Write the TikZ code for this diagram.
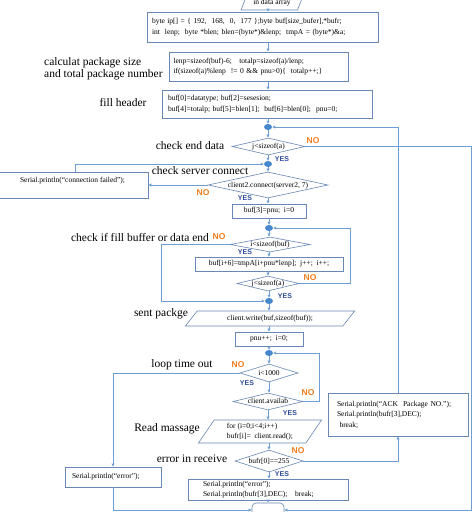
\documentclass[tikz,border=0pt]{standalone}
\usepackage{fontspec}
\setmainfont{Liberation Serif}
\newfontfamily\sansbold{Liberation Sans}
\usetikzlibrary{arrows.meta,shapes.geometric}
\definecolor{lc}{RGB}{110,158,212}
\definecolor{bc}{RGB}{105,135,180}
\definecolor{dotc}{RGB}{70,135,205}
\definecolor{noc}{RGB}{240,125,30}
\definecolor{yesc}{RGB}{45,75,155}
\newcommand{\codef}{\fontsize{7.5}{10.5}\selectfont}
\newcommand{\zt}[1]{\smash{\raisebox{-0.6ex}{\makebox[0pt]{#1}}}}
\begin{document}
\begin{tikzpicture}[x=1pt,y=-1pt,
  flow/.style={draw=lc, line width=0.7pt},
  arr/.style={flow, -{Latex[length=3pt,width=3.4pt]}},
  box/.style={draw=bc, line width=0.6pt, fill=white, rectangle, inner sep=0pt, font=\codef},
  dia/.style={draw=bc, line width=0.6pt, fill=white, diamond, inner sep=0pt, font=\codef},
  para/.style={draw=bc, line width=0.6pt, fill=white, trapezium, trapezium stretches=true, inner sep=0pt, font=\codef},
  dot/.style={ellipse, fill=dotc, minimum width=8pt, minimum height=6pt, inner sep=0pt},
  lab/.style={font=\fontsize{11.5}{12}\selectfont, inner sep=0pt},
  no/.style={font=\sansbold\bfseries\fontsize{8.5}{9}\selectfont, text=noc, inner sep=0pt},
  yes/.style={font=\sansbold\bfseries\fontsize{7}{8}\selectfont, text=yesc, inner sep=0pt},
]
\fill[white] (0,0) rectangle (474,512);
\useasboundingbox (0,0) rectangle (474,512);

% ---------- nodes ----------
\node[para, trapezium left angle=60, trapezium right angle=120, minimum width=62pt, minimum height=14pt] (in) at (272,3) {in data array};
\node[box, minimum width=231pt, minimum height=30pt, text width=221pt, align=left] (b1) at (262.5,27)
  {byte ip[] = \{ 192,~ 168,~ 0,~ 177 \};byte buf[size\_bufer],*bufr;\\ int~ lenp;~ byte *blen; blen=(byte*)\&lenp;~ tmpA = (byte*)\&a;};
\node[box, minimum width=179pt, minimum height=29pt, text width=170pt, align=left] (b2) at (258.5,66.5)
  {lenp=sizeof(buf)-6;~~ totalp=sizeof(a)/lenp;\\ if(sizeof(a)\%lenp~ != 0 \&\& pnu>0)\{~ totalp++;\}};
\node[box, minimum width=210pt, minimum height=28pt, text width=198pt, align=left] (b3) at (267,104)
  {buf[0]=datatype; buf[2]=sesesion;\\ buf[4]=totalp; buf[5]=blen[1];~ buf[6]=blen[0];~ pnu=0;};
\node[dot] (c1) at (268,127) {};
\node[dia, minimum width=73pt, minimum height=17pt] (d1) at (268.5,146.5) {\zt{j<sizeof(a)}};
\node[dot] (c2) at (268,164) {};
\node[dia, minimum width=120pt, minimum height=26pt] (d2) at (268,185) {\zt{client2.connect(server2, 7)}};
\node[box, minimum width=151pt, minimum height=26pt, text height=6pt, text depth=12pt] (cf) at (72.5,185) {Serial.println(“connection failed”);};
\node[box, minimum width=74pt, minimum height=14pt] (b4) at (269,211) {buf[3]=pnu;~ i=0};
\node[dot] (c3) at (269,228) {};
\node[dia, minimum width=80pt, minimum height=15pt] (d3) at (270,244.5) {\zt{i<sizeof(buf)}};
\node[box, minimum width=148pt, minimum height=14pt] (b5) at (269,264) {buf[i+6]=tmpA[i+pnu*lenp];~ j++;~ i++;};
\node[dia, minimum width=62pt, minimum height=15pt] (d4) at (268,283.5) {\zt{j<sizeof(a)}};
\node[dot] (c4) at (269,301) {};
\node[para, trapezium left angle=45, trapezium right angle=135, minimum width=170pt, minimum height=15pt] (p2) at (270,318.5) {client.write(buf,sizeof(buf));};
\node[box, minimum width=68pt, minimum height=14pt] (b6) at (269,339) {pnu++;~ i=0;};
\node[dot] (c5) at (269,353) {};
\node[dia, minimum width=58pt, minimum height=18pt] (d5) at (269,373) {\zt{i<1000}};
\node[dia, minimum width=70pt, minimum height=17pt] (d6) at (268,401.5) {\zt{client.availab}};
\node[para, trapezium left angle=57, trapezium right angle=123, minimum width=124pt, minimum height=23pt, align=left] (p3) at (260,431.5) {for (i=0;i<4;i++)\\ bufr[i]=~ client.read();};
\node[dia, minimum width=68pt, minimum height=22pt] (d7) at (269,461) {\zt{bufr[0]==255}};
\node[box, minimum width=96pt, minimum height=20pt, text width=82pt, align=left] (eb) at (113,477) {Serial.println(“error”);};
\node[box, minimum width=160pt, minimum height=21pt, text width=130pt, align=left] (bb) at (268,489.5) {Serial.println(“error”);\\ Serial.println(bufr[3],DEC);\quad break;};
\node[box, minimum width=140pt, minimum height=43pt, text width=122pt, align=left] (ack) at (398,414.5) {Serial.println(“ACK~ Package NO.”);\\ Serial.println(bufr[3],DEC);\\ ~break;};
\node[draw=bc, line width=0.6pt, fill=white, rounded corners=4pt, minimum width=32pt, minimum height=14pt, inner sep=0pt] (term) at (268,510) {};

% ---------- labels ----------
\node[lab, anchor=west, align=left] (l1) at (44,69) {calculat package size\\[0pt]and total package number};
\node[lab] (l2) at (123,103) {fill header};
\node[lab] (l3) at (190,146) {check end data};
\node[lab] (l4) at (200,171) {check server connect};
\node[lab] (l5) at (140,238) {check if fill buffer or data end};
\node[lab] (l6) at (161,314) {sent packge};
\node[lab] (l7) at (182,365) {loop time out};
\node[lab] (l8) at (167,429) {Read massage};
\node[lab] (l9) at (192,459) {error in receive};

\node[no] (n1) at (313,141) {NO};
\node[yes] (y1) at (282,159) {YES};
\node[no] (n2) at (203,193) {NO};
\node[yes] (y2) at (245,198) {YES};
\node[no] (n3) at (219,237) {NO};
\node[yes] (y3) at (245,252) {YES};
\node[no] (n4) at (310,278) {NO};
\node[yes] (y4) at (285,296) {YES};
\node[no] (n5) at (238,365) {NO};
\node[yes] (y5) at (247,383) {YES};
\node[no] (n6) at (308,393) {NO};
\node[yes] (y6) at (290,413) {YES};
\node[no] (n7) at (298,451) {NO};
\node[yes] (y7) at (282,474) {YES};

\coordinate (rx) at (471.5,0);
\coordinate (ax) at (398,0);

% ---------- connectors ----------
\draw[arr] (in.south -| c1) -- (b1.north -| c1);
\draw[arr] (b1.south -| c1) -- (b2.north -| c1);
\draw[arr] (b2.south -| c1) -- (b3.north -| c1);
\draw[arr] (b3.south -| c1) -- (c1.north);
\draw[arr] (c1.south) -- (d1.north -| c1);
\draw[arr] (d1.south -| c2) -- (c2.north);
\draw[arr] (d1.east) -- (d1.east -| rx) -- (term.east -| rx) -- (term.east);
\draw[arr] (c2.south) -- (d2.north);
\draw[arr] (d2.west) -- (cf.east);
\draw[arr] (cf.north -| 75,0) -- (c2.west -| 75,0) -- (c2.west);
\draw[arr] (d2.south) -- (b4.north -| d2);
\draw[arr] (b4.south -| c3) -- (c3.north);
\draw[arr] (c3.south) -- (d3.north -| c3);
\draw[arr] (d3.south -| c3) -- (b5.north -| c3);
\draw[arr] (d3.west) -- (d3.west -| 161,0) -- (c4.west -| 161,0) -- (c4.west);
\draw[arr] (b5.south -| d4) -- (d4.north);
\draw[arr] (d4.east) -- (d4.east -| 350,0) -- (c3.east -| 350,0) -- (c3.east);
\draw[arr] (d4.south -| c4) -- (c4.north);
\draw[arr] (c4.south) -- (p2.north -| c4);
\draw[arr] (p2.south -| c4) -- (b6.north -| c4);
\draw[arr] (b6.south -| c5) -- (c5.north);
\draw[arr] (c5.south) -- (d5.north);
\draw[arr] (d5.west) -- (d5.west -| eb.north) -- (eb.north);
\draw[arr] (d5.south) -- (d6.north -| d5);
\draw[arr] (d6.east) -- (d6.east -| 319,0) -- (c5.east -| 319,0) -- (c5.east);
\draw[arr] (d6.south) -- (p3.north -| d6);
\draw[arr] (p3.south -| d7) -- (d7.north);
\draw[arr] (d7.east) -- (d7.east -| ack.south) -- (ack.south);
\draw[arr] (d7.south) -- (bb.north -| d7);
\draw[arr] (ack.north) -- (c1.east -| ack.north) -- (c1.east);
\draw[arr] (eb.south) -- (term.west -| eb.south) -- (term.west);
\draw[arr] (bb.south -| term) -- (term.north);
\end{tikzpicture}
\end{document}
